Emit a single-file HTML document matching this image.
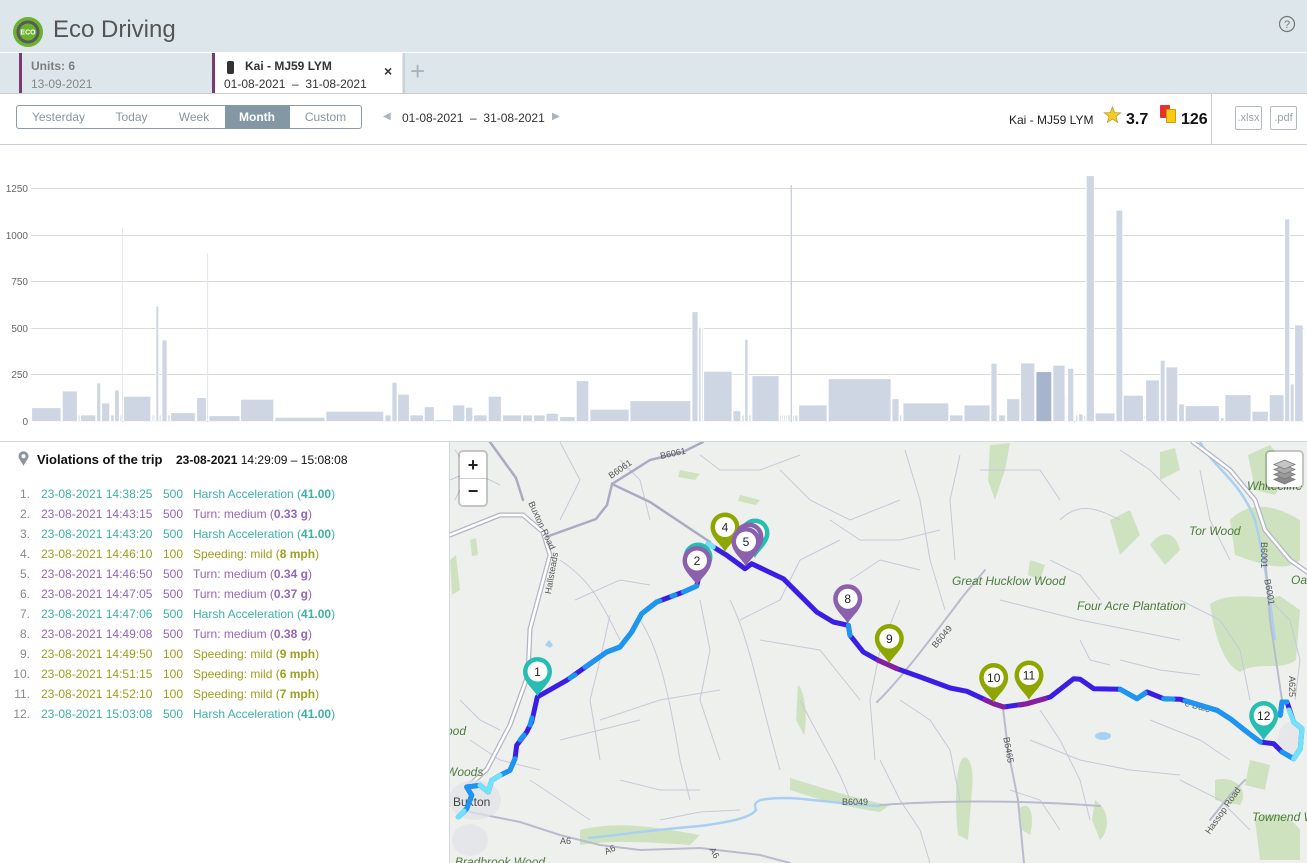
<!DOCTYPE html>
<html><head><meta charset="utf-8">
<style>
*{margin:0;padding:0;box-sizing:border-box}
body{width:1307px;height:863px;overflow:hidden;background:#fff;font-family:"Liberation Sans",Arial,sans-serif;position:relative}
.abs{position:absolute}
#hdr{left:0;top:0;width:1307px;height:94px;background:#dde6eb}
#sep1{left:0;top:52px;width:1307px;height:1px;background:#fff}
#tabline{left:0;top:93px;width:1307px;height:1px;background:#c6ced6}
.t{position:absolute;white-space:nowrap}
.btn{position:absolute;top:105px;height:24px;border:1px solid #8d9ba7;color:#8795a1;font-size:12px;line-height:23px;text-align:center;background:#fff}
.row{position:absolute;left:0;width:449px;height:20px;font-size:12px;line-height:20px;white-space:nowrap}
.row span{position:absolute}
.n{right:419px;color:#8a8a8a;text-align:right}
.d{left:41px}.s{left:163px}.v{left:193px}
.te{color:#3fb0a6}.pu{color:#9566b8}.ol{color:#9da01f}
</style></head><body>
<div id="hdr" class="abs"></div>
<div id="sep1" class="abs"></div>
<svg class="abs" style="left:12px;top:16px" width="32" height="32" viewBox="0 0 32 32">
<circle cx="16" cy="16" r="15" fill="#6bb12f"/>
<circle cx="16" cy="16" r="11.5" fill="#57595b"/>
<circle cx="16" cy="16" r="8.5" fill="#6bb12f"/>
<text x="16" y="18.6" font-size="7" font-weight="bold" fill="#fff" text-anchor="middle" font-family="Liberation Sans">ECO</text>
</svg>
<div class="t" style="left:53px;top:16px;font-size:24px;color:#555;">Eco Driving</div>
<svg class="abs" style="left:1278px;top:15px" width="18" height="18"><circle cx="9" cy="9" r="7.5" fill="none" stroke="#777" stroke-width="1.2"/><text x="9" y="13" font-size="11" fill="#777" text-anchor="middle" font-family="Liberation Sans">?</text></svg>
<div class="abs" style="left:19px;top:53px;width:3px;height:40px;background:#7b3a6e"></div>
<div class="t" style="left:31px;top:59px;font-size:12px;font-weight:bold;color:#7d7d7d">Units: 6</div>
<div class="t" style="left:31px;top:77px;font-size:12px;color:#878787">13-09-2021</div>
<div class="abs" style="left:212px;top:53px;width:190px;height:41px;background:#fff"></div>
<div class="abs" style="left:212px;top:53px;width:3px;height:40px;background:#7b3a6e"></div>
<div class="abs" style="left:227px;top:61px;width:7px;height:13px;background:#333;border-radius:2px"></div>
<div class="t" style="left:245px;top:59px;font-size:12px;font-weight:bold;color:#333">Kai - MJ59 LYM</div>
<div class="t" style="left:224px;top:77px;font-size:12px;color:#333">01-08-2021 &nbsp;–&nbsp; 31-08-2021</div>
<div class="t" style="left:384px;top:63px;font-size:14px;font-weight:bold;color:#333">×</div>
<div class="abs" style="left:403px;top:53px;width:2px;height:40px;background:#c9d3db"></div>
<div class="t" style="left:410px;top:56px;font-size:26px;color:#a9b3bb;font-weight:300">+</div>
<div id="tabline" class="abs"></div>
<div class="btn" style="left:16px;width:85px;border-radius:3px 0 0 3px">Yesterday</div>
<div class="btn" style="left:100px;width:64px;border-left:none">Today</div>
<div class="btn" style="left:163px;width:63px;border-left:none">Week</div>
<div class="btn" style="left:225px;width:65px;border-left:none;background:#8497a5;color:#fff;font-weight:bold;border-color:#8497a5">Month</div>
<div class="btn" style="left:290px;width:72px;border-left:none;border-radius:0 3px 3px 0">Custom</div>
<div class="t" style="left:383px;top:111px;font-size:10px;color:#aab4bd">◀</div>
<div class="t" style="left:402px;top:111px;font-size:12px;color:#333">01-08-2021 &nbsp;–&nbsp; 31-08-2021</div>
<div class="t" style="left:552px;top:111px;font-size:10px;color:#aab4bd">▶</div>
<div class="t" style="left:1009px;top:113px;font-size:12px;color:#222">Kai - MJ59 LYM</div>
<svg class="abs" style="left:1103px;top:106px" width="19" height="18" viewBox="0 0 19 18"><polygon points="9.5,1 11.7,6.6 17.7,6.8 13,10.6 14.6,16.4 9.5,13.1 4.4,16.4 6,10.6 1.3,6.8 7.3,6.6" fill="#f6cd1b" stroke="#b59a3a" stroke-width="0.8"/></svg>
<div class="t" style="left:1126px;top:111px;font-size:16px;font-weight:bold;color:#111">3.7</div>
<div class="abs" style="left:1160px;top:105px;width:10px;height:13px;background:#e8302c;border-radius:1px"></div>
<div class="abs" style="left:1166px;top:109px;width:10px;height:14px;background:#f6cb12;border:1px solid #c9a000;border-radius:1px"></div>
<div class="t" style="left:1181px;top:111px;font-size:16px;font-weight:bold;color:#111">126</div>
<div class="abs" style="left:1211px;top:94px;width:1px;height:50px;background:#c6ced6"></div>
<div class="abs" style="left:1235px;top:106px;width:27px;height:24px;border:1px solid #b2bbc2;border-radius:2px;font-size:11px;color:#9aa3aa;line-height:22px;text-align:center">.xlsx</div>
<div class="abs" style="left:1270px;top:106px;width:27px;height:24px;border:1px solid #b2bbc2;border-radius:2px;font-size:11px;color:#9aa3aa;line-height:22px;text-align:center">.pdf</div>
<div class="abs" style="left:0;top:144px;width:1307px;height:1px;background:#c6ced6"></div>
<svg class="abs" style="left:0;top:145px" width="1307" height="296" viewBox="0 145 1307 296">
<g stroke="#d9d9d9" stroke-width="1">
<line x1="31" y1="188.5" x2="1304" y2="188.5"/>
<line x1="31" y1="235.5" x2="1304" y2="235.5"/>
<line x1="31" y1="281.5" x2="1304" y2="281.5"/>
<line x1="31" y1="328.5" x2="1304" y2="328.5"/>
<line x1="31" y1="374.5" x2="1304" y2="374.5"/>
<line x1="31" y1="421.5" x2="1304" y2="421.5"/>
</g>
<g font-size="10" fill="#666" text-anchor="end" font-family="Liberation Sans">
<text x="28" y="192">1250</text><text x="28" y="239">1000</text><text x="28" y="285">750</text>
<text x="28" y="332">500</text><text x="28" y="378">250</text><text x="28" y="425">0</text>
</g>
<g id="bars" fill="#cdd6e2" stroke="#fff" stroke-width="0.8"></g>
<line x1="122.5" y1="228" x2="122.5" y2="421" stroke="#e6eaf0" stroke-width="1"/>
<line x1="207.5" y1="253" x2="207.5" y2="421" stroke="#e3e8ee" stroke-width="1.2"/>
<line x1="791.3" y1="185" x2="791.3" y2="421" stroke="#c9d2de" stroke-width="1.4"/>
</svg>
<div class="abs" style="left:0;top:441px;width:1307px;height:1px;background:#d2d8de"></div>
<div class="abs" style="left:449px;top:441px;width:1px;height:422px;background:#d2d8de"></div>
<svg class="abs" style="left:18px;top:451px" width="11" height="15" viewBox="0 0 11 15"><path d="M5.5,15 C4,11 0.5,8.5 0.5,5.3 A5,5 0 1,1 10.5,5.3 C10.5,8.5 7,11 5.5,15Z" fill="#8c959c"/><circle cx="5.5" cy="5.3" r="2" fill="#fff"/></svg>
<div class="t" style="left:37px;top:452px;font-size:13px;font-weight:bold;color:#111">Violations of the trip</div>
<div class="t" style="left:176px;top:453px;font-size:12px;color:#111"><b>23-08-2021</b> 14:29:09 – 15:08:08</div>
<div class="row" style="top:484px"><span class="n">1.</span><span class="d te">23-08-2021 14:38:25</span><span class="s te">500</span><span class="v te">Harsh Acceleration (<b>41.00</b>)</span></div>
<div class="row" style="top:504px"><span class="n">2.</span><span class="d pu">23-08-2021 14:43:15</span><span class="s pu">500</span><span class="v pu">Turn: medium (<b>0.33 g</b>)</span></div>
<div class="row" style="top:524px"><span class="n">3.</span><span class="d te">23-08-2021 14:43:20</span><span class="s te">500</span><span class="v te">Harsh Acceleration (<b>41.00</b>)</span></div>
<div class="row" style="top:544px"><span class="n">4.</span><span class="d ol">23-08-2021 14:46:10</span><span class="s ol">100</span><span class="v ol">Speeding: mild (<b>8 mph</b>)</span></div>
<div class="row" style="top:564px"><span class="n">5.</span><span class="d pu">23-08-2021 14:46:50</span><span class="s pu">500</span><span class="v pu">Turn: medium (<b>0.34 g</b>)</span></div>
<div class="row" style="top:584px"><span class="n">6.</span><span class="d pu">23-08-2021 14:47:05</span><span class="s pu">500</span><span class="v pu">Turn: medium (<b>0.37 g</b>)</span></div>
<div class="row" style="top:604px"><span class="n">7.</span><span class="d te">23-08-2021 14:47:06</span><span class="s te">500</span><span class="v te">Harsh Acceleration (<b>41.00</b>)</span></div>
<div class="row" style="top:624px"><span class="n">8.</span><span class="d pu">23-08-2021 14:49:08</span><span class="s pu">500</span><span class="v pu">Turn: medium (<b>0.38 g</b>)</span></div>
<div class="row" style="top:644px"><span class="n">9.</span><span class="d ol">23-08-2021 14:49:50</span><span class="s ol">100</span><span class="v ol">Speeding: mild (<b>9 mph</b>)</span></div>
<div class="row" style="top:664px"><span class="n">10.</span><span class="d ol">23-08-2021 14:51:15</span><span class="s ol">100</span><span class="v ol">Speeding: mild (<b>6 mph</b>)</span></div>
<div class="row" style="top:684px"><span class="n">11.</span><span class="d ol">23-08-2021 14:52:10</span><span class="s ol">100</span><span class="v ol">Speeding: mild (<b>7 mph</b>)</span></div>
<div class="row" style="top:704px"><span class="n">12.</span><span class="d te">23-08-2021 15:03:08</span><span class="s te">500</span><span class="v te">Harsh Acceleration (<b>41.00</b>)</span></div>
<svg class="abs" style="left:450px;top:442px" width="857" height="421" viewBox="450 442 857 421">
<defs>
<path id="pin" d="M0,25 C-3,18 -14.5,11 -14.5,0 A14.5,14.5 0 1,1 14.5,0 C14.5,11 3,18 0,25Z"/>
</defs>
<rect x="450" y="442" width="857" height="421" fill="#eef0ee"/>
<g fill="#cfe2bf">
<path d="M1210,604 C1230,590 1260,600 1280,596 L1300,610 L1296,660 C1280,672 1260,660 1240,672 C1225,665 1215,640 1210,604Z"/>
<path d="M1230,520 C1250,500 1275,505 1300,520 L1300,560 C1285,575 1250,560 1235,555Z"/>
<path d="M1248,455 L1270,445 L1290,470 L1275,495 L1255,490Z"/>
<path d="M1150,545 C1160,530 1175,530 1180,550 L1165,565Z"/>
<path d="M1110,520 L1130,510 L1140,535 L1120,555Z"/>
<path d="M1160,452 L1175,448 L1180,470 L1160,480Z"/>
<path d="M990,445 L1010,443 L1005,470 L995,500 L988,480Z"/>
<path d="M960,763 C965,750 975,760 972,790 L968,840 L958,835 C955,810 955,780 960,763Z"/>
<path d="M1020,808 C1030,800 1035,815 1030,835 L1022,830Z"/>
<path d="M1250,760 L1270,765 L1265,790 L1245,785Z"/>
<path d="M1215,780 C1235,775 1250,790 1240,805 L1215,800Z"/>
<path d="M798,685 C805,690 808,720 804,735 L796,720Z"/>
<path d="M790,778 C830,790 860,800 890,805 L880,812 C850,808 820,800 790,790Z"/>
<path d="M580,830 C620,820 660,828 700,835 L690,845 C650,842 610,840 580,845Z"/>
<path d="M1095,800 C1110,810 1110,830 1100,840 L1092,820Z"/>
<path d="M1255,820 C1270,810 1290,815 1300,830 L1300,860 L1260,860Z"/>
<path d="M450,560 L456,555 L460,590 L452,595Z"/>
<path d="M470,540 L476,538 L478,555 L472,556Z"/>
<path d="M680,470 L700,474 L695,480 L678,477Z"/>
<path d="M740,495 L760,500 L756,505 L738,501Z"/>
<path d="M1030,560 L1045,565 L1040,580 L1028,575Z"/>
</g>
<g fill="none" stroke="#a9d0f2" stroke-width="2.5">
<path d="M588,838 C620,835 650,830 700,826 C730,822 750,818 756,810 C752,800 760,798 790,798 C820,800 850,805 880,806"/>
<path d="M1200,442 C1215,470 1240,480 1255,520 C1265,560 1270,600 1275,640"/>
</g>
<path d="M549,640 L553,645 L550,648 L545,645Z" fill="#a9d0f2"/>
<ellipse cx="1103" cy="736" rx="8" ry="4" fill="#a9d0f2"/>
<g fill="none" stroke="#c6c8d8" stroke-width="1">
<path d="M450,480 C470,470 480,475 500,485"/><path d="M455,450 L470,470 L455,500"/>
<path d="M560,442 L580,480 L560,520"/><path d="M620,460 L640,480 L650,520"/>
<path d="M700,455 L720,470 L760,470 L800,455"/><path d="M780,470 L810,500 L850,520 L900,500"/>
<path d="M560,560 C590,580 600,600 620,640"/><path d="M575,600 L620,580 L650,585"/>
<path d="M610,615 L600,660 L590,700 L600,760"/><path d="M640,620 C660,650 670,700 680,760 L690,800"/>
<path d="M700,600 L710,650 L700,700 L720,760"/><path d="M730,600 C750,640 760,700 780,770"/>
<path d="M760,640 L820,650 L860,700"/><path d="M600,720 L660,700 L720,690"/>
<path d="M560,740 L600,730 L640,720"/><path d="M620,780 L660,790 L700,790"/>
<path d="M800,700 C820,740 840,770 850,800"/><path d="M740,620 L780,600 L800,560 L840,540"/>
<path d="M830,520 L860,540 L900,540 L940,530"/><path d="M850,580 L880,560 L920,570"/>
<path d="M900,600 L880,650 L870,700 L875,760"/><path d="M905,450 L920,500 L930,560 L945,610"/>
<path d="M960,455 L950,500 L955,560"/><path d="M980,470 L1040,470 L1060,500"/>
<path d="M1000,600 L1040,610 L1080,620 L1130,630 L1180,640"/><path d="M1060,520 C1080,500 1100,510 1120,520"/>
<path d="M1050,560 L1080,575 L1100,600"/><path d="M900,700 L930,720 L950,750 L960,800"/>
<path d="M1040,710 L1060,740 L1080,780 L1090,820"/><path d="M1030,740 L1080,760 L1130,770 L1180,775"/>
<path d="M1120,660 L1160,670 L1200,675"/><path d="M1080,640 L1090,660 L1110,665"/>
<path d="M1150,720 L1200,740 L1230,760"/><path d="M1180,780 L1220,800 L1250,830"/>
<path d="M1010,790 L1040,800 L1060,830"/><path d="M880,760 L900,800 L920,830 L930,863"/>
<path d="M460,700 L480,720 L500,730"/><path d="M470,740 L500,760 L540,770"/>
<path d="M530,780 L560,800 L590,820"/><path d="M660,820 L700,812 L740,810"/>
<path d="M1180,600 L1220,620 L1240,650 L1250,700"/><path d="M1270,600 L1290,620 L1300,660 L1295,700"/>
<path d="M1200,470 L1210,520 L1230,560"/><path d="M1120,450 L1150,470 L1180,500"/>
</g>
<g fill="none" stroke="#a9abc1" stroke-width="2.5" stroke-linecap="round">
<path d="M490,442 L516,478 L523,500"/>
<path d="M546,537 L596,519 L607,505 L612,484 L650,502 L710,542"/>
<path d="M612,484 L650,460 L683,452 L703,442"/>
</g>
<g fill="none" stroke="#b9bccd" stroke-width="2" stroke-linecap="round">
<path d="M877,702 C900,680 930,640 964,595 L985,570"/>
<path d="M1003,708 L1008,750 L1018,800 L1024,863"/>
<path d="M1265,555 L1270,620 L1282,700"/>
<path d="M1210,820 L1230,795 L1245,780"/>
<path d="M470,812 L520,822 L560,835 L600,845 L640,850 L700,848 L760,855 L790,863"/>
<path d="M880,805 C950,800 1020,800 1100,806"/>
</g>
<g fill="none" stroke-linecap="round" stroke-linejoin="round">
<path d="M450,535 L500,515 L523,515 L543,532 L550,555 L540,592 L530,629 L528,675 L510,725 L487,769 L470,785" stroke="#b2b5c6" stroke-width="5"/>
<path d="M450,535 L500,515 L523,515 L543,532 L550,555 L540,592 L530,629 L528,675 L510,725 L487,769 L470,785" stroke="#fff" stroke-width="2.5"/>
<path d="M1193,442 L1230,470 L1255,500 L1265,530 L1290,560 L1307,572" stroke="#b2b5c6" stroke-width="5"/>
<path d="M1193,442 L1230,470 L1255,500 L1265,530 L1290,560 L1307,572" stroke="#fff" stroke-width="2.5"/>
</g>
<g fill="#e2e3e7" opacity="0.7">
<ellipse cx="475" cy="800" rx="26" ry="20"/>
<ellipse cx="470" cy="840" rx="18" ry="16"/>
<ellipse cx="1290" cy="740" rx="12" ry="18"/>
</g>
<g font-family="Liberation Sans" font-style="italic" font-size="12" fill="#4d7c3c">
<text x="952" y="585">Great Hucklow Wood</text>
<text x="1077" y="610">Four Acre Plantation</text>
<text x="1189" y="535">Tor Wood</text>
<text x="1247" y="490">Whitecliffe</text>
<text x="1291" y="584">Oak</text>
<text x="1252" y="821">Townend W</text>
<text x="446" y="735">ood</text>
<text x="446" y="776">Woods</text>
<text x="455" y="866">Bradbrook Wood</text>
</g>
<text x="453" y="806" font-family="Liberation Sans" font-size="12" fill="#444">Buxton</text>
<g font-family="Liberation Sans" font-size="9" fill="#555">
<text x="660" y="457" transform="rotate(-12 670 454)">B6061</text>
<text x="608" y="475" transform="rotate(-35 616 472)">B6061</text>
<text x="520" y="512" transform="rotate(65 531 514)">Buxton Road</text>
<text x="538" y="585" transform="rotate(-80 550 582)">Hallsteads</text>
<text x="842" y="805">B6049</text>
<text x="560" y="844">A6</text>
<text x="604" y="853" transform="rotate(-25 609 849)">A6</text>
<text x="710" y="856" transform="rotate(60 715 852)">A6</text>
<text x="930" y="642" transform="rotate(-50 940 639)">B6049</text>
<text x="998" y="750" transform="rotate(80 1008 747)">B6465</text>
<text x="1254" y="555" transform="rotate(90 1264 552)">B6001</text>
<text x="1259" y="592" transform="rotate(80 1269 589)">B6001</text>
<text x="1284" y="687" transform="rotate(90 1292 684)">A625</text>
<text x="1200" y="822" transform="rotate(-55 1217 819)">Hassop Road</text>
<text x="1185" y="709" transform="rotate(15 1197 705)">e Dale</text>
</g>
<g fill="none" stroke-linecap="round" stroke-linejoin="round" stroke-width="5">
<path stroke="#3a1ee6" d="M458.3,817 L466.7,808.7 L471.7,795.3 L466.7,787 L480,785.3 L488.3,792 L491.7,780.3 L500,775.3 L510,770.3 L515,758.7 L516.7,745.3 L526.7,732 L531.7,722 L537.3,697 L566.7,680.3 L606.7,652 L620,647 L631.7,632 L641.7,613.7 L656.7,602 L683.3,592 L696.7,586 L705,550 L708.3,543.7 L713.3,547 L726.7,555.3 L738.3,563.7 L745,568.7 L751.7,563.7 L783.3,578.7 L800,595.3 L816.7,612 L833.3,622 L848.3,625.3 L850,635.3 L863.3,652 L878.3,660.3 L897,668.7 L920.3,677 L950.3,688 L967,691.3 L993.7,703.7 L1003.7,707 L1027,703.7 L1050.3,697 L1073.7,678.7 L1080.3,679.3 L1093.7,688.7 L1120.3,689.3 L1137,698.7 L1147,692 L1163.7,698.7 L1180.3,699.3 L1217,710.3 L1230.3,718.7 L1247,732 L1260.3,742 L1273.7,743.7 L1282,752 L1293.7,758.7 L1300.3,748.7 L1302,728.7 L1293.7,722 L1287,702 L1282,702 L1280.3,715.3"/>
<g stroke="#1d96f2">
<path d="M458.3,817 L466.7,808.7 L471.7,795.3 L466.7,787 L480,785.3"/>
<path d="M500,775.3 L510,770.3 L515,758.7"/>
<path d="M520,740 L524,735"/>
<path d="M530,725 L532,718"/>
<path d="M570,678 L575,675"/>
<path d="M585,667 L606.7,652 L620,647 L631.7,632 L641.7,613.7 L656.7,602 L660,601"/>
<path d="M672,596 L675,595"/>
<path d="M683.3,592 L696.7,586"/>
<path d="M848.3,625.3 L850,635.3"/>
<path d="M1120.3,689.3 L1137,698.7 L1145,693"/>
<path d="M1163.7,698.7 L1173,699"/>
<path d="M1185,700.7 L1217,710.3 L1230.3,718.7 L1247,732 L1260.3,742"/>
<path d="M1282,752 L1293.7,758.7"/>
<path d="M1287,702 L1282,702 L1280.3,715.3"/>
</g>
<g stroke="#72e2fa">
<path d="M458.3,817 L464,811"/>
<path d="M480,785.3 L488.3,792 L491.7,780.3 L500,775.3"/>
<path d="M700,560 L705,550 L708.3,543.7 L713.3,547"/>
<path d="M1293.7,758.7 L1300.3,748.7 L1302,728.7 L1293.7,722 L1289,710"/>
</g>
<g stroke="#861fa0">
<path d="M878.3,660.3 L897,668.7"/>
<path d="M985,700 L993.7,703.7 L1003.7,707"/>
<path d="M1020,705 L1027,703.7 L1045,698.7"/>
</g>
</g>
<g font-family="Liberation Sans" font-size="12" text-anchor="middle" fill="#222">
<g transform="translate(698,557)"><use href="#pin" fill="#27bdb0"/><circle r="10" fill="#fff"/><text y="4.5">3</text></g>
<g transform="translate(697,560.5)"><use href="#pin" fill="#8b60ad"/><circle r="10" fill="#fff"/><text y="4.5">2</text></g>
<g transform="translate(725,527)"><use href="#pin" fill="#8fa600"/><circle r="10" fill="#fff"/><text y="4.5">4</text></g>
<g transform="translate(755,533)"><use href="#pin" fill="#27bdb0"/><circle r="10" fill="#fff"/><text y="4.5">7</text></g>
<g transform="translate(749,537)"><use href="#pin" fill="#8b60ad"/><circle r="10" fill="#fff"/><text y="4.5">6</text></g>
<g transform="translate(746,541.5)"><use href="#pin" fill="#8b60ad"/><circle r="10" fill="#fff"/><text y="4.5">5</text></g>
<g transform="translate(537.5,671.5)"><use href="#pin" fill="#27bdb0"/><circle r="10" fill="#fff"/><text y="4.5">1</text></g>
<g transform="translate(847.7,598.7)"><use href="#pin" fill="#8b60ad"/><circle r="10" fill="#fff"/><text y="4.5">8</text></g>
<g transform="translate(889.3,638.5)"><use href="#pin" fill="#8fa600"/><circle r="10" fill="#fff"/><text y="4.5">9</text></g>
<g transform="translate(993.7,677.5)"><use href="#pin" fill="#8fa600"/><circle r="10" fill="#fff"/><text y="4.5">10</text></g>
<g transform="translate(1029,675)"><use href="#pin" fill="#8fa600"/><circle r="10" fill="#fff"/><text y="4.5">11</text></g>
<g transform="translate(1263.7,715.5)"><use href="#pin" fill="#27bdb0"/><circle r="10" fill="#fff"/><text y="4.5">12</text></g>
</g>
<rect x="459" y="451" width="28" height="55" rx="4" fill="none" stroke="rgba(0,0,0,0.18)" stroke-width="2"/>
<rect x="460" y="452" width="26" height="53" rx="3" fill="#fff"/>
<line x1="460" y1="478.5" x2="486" y2="478.5" stroke="#ccc"/>
<text x="473" y="471" font-family="Liberation Sans" font-size="18" font-weight="bold" text-anchor="middle" fill="#222">+</text>
<text x="473" y="497" font-family="Liberation Sans" font-size="18" font-weight="bold" text-anchor="middle" fill="#222">−</text>
<rect x="1266" y="451" width="37" height="37" rx="4" fill="none" stroke="rgba(0,0,0,0.18)" stroke-width="2"/>
<rect x="1267" y="452" width="35" height="35" rx="3" fill="#fff"/>
<g stroke="#777" stroke-width="0.8">
<polygon points="1284.5,475 1295,479.5 1284.5,484 1274,479.5" fill="#8a8a8a"/>
<polygon points="1284.5,470 1295,474.5 1284.5,479 1274,474.5" fill="#9a9a9a"/>
<polygon points="1284.5,465 1295,469.5 1284.5,474 1274,469.5" fill="#aaa"/>
<polygon points="1284.5,460 1295,464.5 1284.5,469 1274,464.5" fill="#c4c4c4"/>
</g>
</svg>
<script>
var B=[[31.7,61,407.7],[62.3,77.3,391],[78.3,80,415],[80.7,95.7,415],[96.7,100.7,383],[101.7,109.7,403],[110.7,114,415],[114.7,119.3,390],[120,121.7,415],[123.7,150.7,396.3],[151.7,153,415],[153.3,154.7,415],[156,158.7,306],[159.3,161,415],[162,167,340],[168,170,415],[170.7,195.3,412.7],[196.7,206.3,397.7],[209,240,415.7],[240.7,273.7,399.3],[275,325,417.3],[326,383.7,411.3],[385,391,415],[392,397,382.3],[397.7,409.3,394.3],[410,423.3,415],[424.3,434.3,406.7],[435,451.7,419.7],[452.7,464.7,405],[465.7,472.7,407.3],[473.7,487,415],[488.3,501.3,396.3],[502.7,521.7,415],[522.7,532.3,415],[533.7,545,415],[546,558.3,413.3],[559.7,575,416.7],[576.3,588.7,380.7],[590,629,409.3],[630,690.7,400.7],[692,698,311.7],[698.7,701,327.3],[701.7,703,328.3],[703.7,732,371.3],[733,740.7,410.7],[742,744,415],[744.7,748,339.3],[749,751,415],[752,779,375.7],[780,781.3,415],[782,783.3,415],[784,785.3,415],[786,787.3,415],[788,790,415],[792.5,794,415],[795,797.7,415],[798.7,827,405],[828.3,891,378.7],[892,899,398.7],[899.7,901.7,415],[903,948.7,403],[949.7,963,415],[964,990,405],[991,997,363.3],[998.7,1005.3,415],[1006.7,1019.7,398.7],[1020.7,1034.7,363],[1036,1051.7,371.7,1],[1053,1065,365.3],[1065.5,1066.5,397],[1067.7,1073.7,368.3],[1075.7,1077.7,415],[1078.7,1083,414],[1084,1085.7,415],[1086.3,1094.3,175.7],[1095.3,1115,413],[1116,1122.7,210.3],[1123.3,1143.3,395.3],[1143.7,1144.7,415],[1145.7,1159.3,380],[1160.3,1165,360.3],[1166,1177.7,367],[1178.7,1184.3,404],[1185.3,1219.3,405.7],[1220.7,1224,417.7],[1225,1251,394.7],[1252,1268.3,411.3],[1269.3,1284,394.7],[1284.7,1289.7,219],[1290.3,1294,384],[1294.7,1303,325]];
var g=document.getElementById('bars'),s='';
for(var i=0;i<B.length;i++){var b=B[i];s+='<rect x="'+b[0]+'" y="'+b[2]+'" width="'+(b[1]-b[0])+'" height="'+(421.5-b[2])+'"'+(b[3]?' fill="#a6b5cb"':'')+'/>';}
g.innerHTML=s;
</script>
</body></html>
